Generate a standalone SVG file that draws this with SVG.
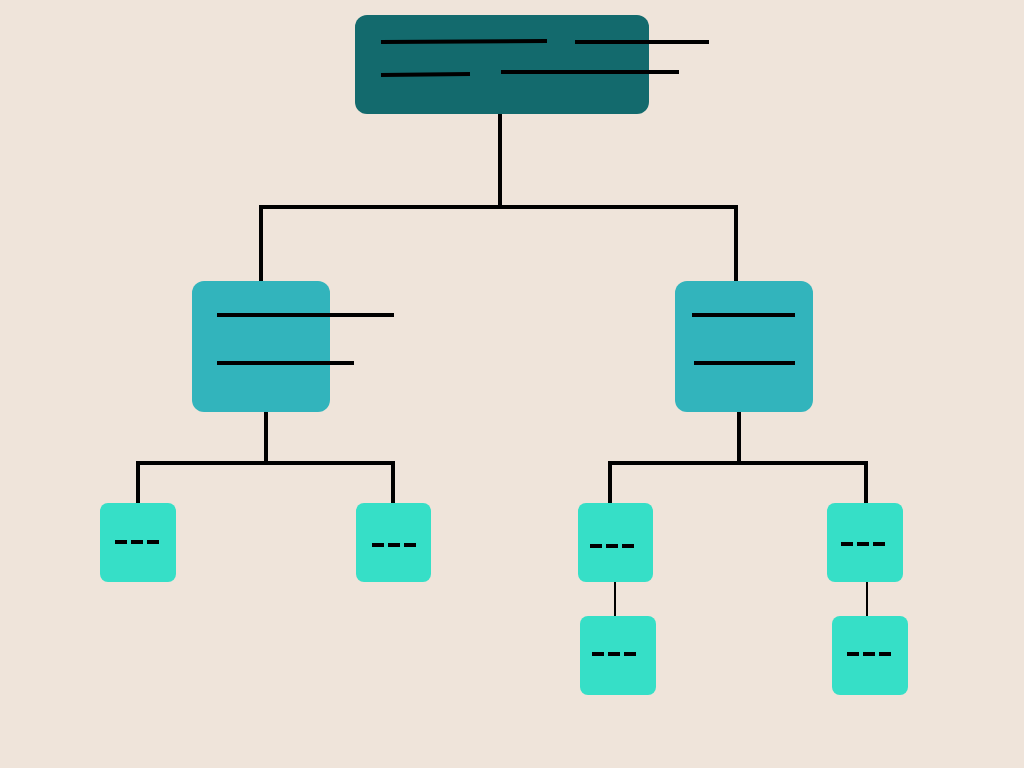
<svg xmlns="http://www.w3.org/2000/svg" width="1024" height="768" viewBox="0 0 1024 768">
<style>
.ln{stroke:#000;stroke-width:4;fill:none}
.th{stroke:#000;stroke-width:2;fill:none}
.ds{stroke:#000;stroke-width:4;stroke-dasharray:12,4;fill:none}
.sm{fill:#36dfc7}
.md{fill:#32b4bc}
</style>
<rect width="1024" height="768" fill="#efe4da"/>
<g id="connectors">
<path class="ln" d="M500,114V207M261,281V207H736V281"/>
<path class="ln" d="M266,412V463M138,503V463H393V503"/>
<path class="ln" d="M739,412V463M610,503V463H866V503"/>
<path class="th" d="M615,582V616M867,582V616"/>
</g>
<g id="root">
<rect x="355" y="15" width="294" height="99" rx="12" fill="#136a6d"/>
<path class="ln" d="M381,42L547,41M575,42H709M381,75L470,74M501,72H679"/>
</g>
<g id="mid-left">
<rect class="md" x="192" y="281" width="138" height="131" rx="12"/>
<path class="ln" d="M217,315H394M217,363H354"/>
</g>
<g id="mid-right">
<rect class="md" x="675" y="281" width="138" height="131" rx="12"/>
<path class="ln" d="M692,315H795M694,363H795"/>
</g>
<g id="leaf1"><rect class="sm" x="100" y="503" width="76" height="79" rx="8"/><path class="ds" d="M115,542H160"/></g>
<g id="leaf2"><rect class="sm" x="356" y="503" width="75" height="79" rx="8"/><path class="ds" d="M372,545H417"/></g>
<g id="leaf3"><rect class="sm" x="578" y="503" width="75" height="79" rx="8"/><path class="ds" d="M590,546H635"/></g>
<g id="leaf4"><rect class="sm" x="827" y="503" width="76" height="79" rx="8"/><path class="ds" d="M841,544H886"/></g>
<g id="leaf5"><rect class="sm" x="580" y="616" width="76" height="79" rx="8"/><path class="ds" d="M592,654H637"/></g>
<g id="leaf6"><rect class="sm" x="832" y="616" width="76" height="79" rx="8"/><path class="ds" d="M847,654H892"/></g>
</svg>
